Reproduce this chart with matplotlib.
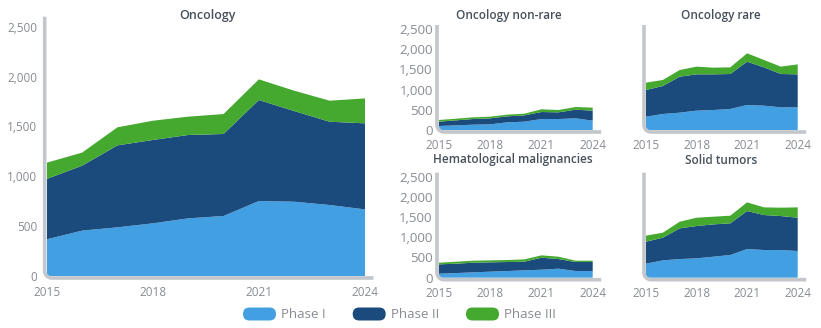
import numpy as np
import matplotlib
matplotlib.use('Agg')
import matplotlib.pyplot as plt
from matplotlib.path import Path
from matplotlib.patches import PathPatch, FancyBboxPatch
from matplotlib.transforms import IdentityTransform
from matplotlib.ticker import FuncFormatter

plt.rcParams['font.family'] = ['Open Sans', 'DejaVu Sans']

years = [2015, 2016, 2017, 2018, 2019, 2020, 2021, 2022, 2023, 2024]
phases = ['Phase I', 'Phase II', 'Phase III']

# values (trials per year, by phase)
oncology_p1 = [368, 455, 488, 528, 578, 602, 752, 745, 712, 668]
oncology_p2 = [605, 651, 822, 836, 836, 822, 1013, 909, 835, 863]
oncology_p3 = [163, 131, 181, 193, 184, 200, 207, 204, 211, 250]

nonrare_p1 = [99, 115, 132, 140, 190, 206, 272, 272, 289, 231]
nonrare_p2 = [107, 124, 140, 149, 148, 157, 173, 165, 214, 247]
nonrare_p3 = [42, 41, 42, 41, 42, 41, 67, 58, 66, 75]

rare_p1 = [330, 396, 429, 479, 495, 520, 619, 602, 561, 561]
rare_p2 = [660, 693, 891, 899, 883, 866, 1072, 949, 825, 817]
rare_p3 = [182, 149, 165, 190, 165, 165, 207, 182, 182, 247]

hema_p1 = [99, 115, 132, 149, 165, 182, 198, 223, 165, 165]
hema_p2 = [231, 232, 239, 231, 223, 214, 297, 239, 223, 223]
hema_p3 = [41, 49, 50, 49, 49, 58, 58, 58, 33, 33]

solid_p1 = [347, 429, 462, 479, 520, 561, 710, 685, 685, 660]
solid_p2 = [544, 561, 759, 800, 800, 784, 940, 866, 841, 825]
solid_p3 = [149, 124, 165, 206, 190, 190, 215, 190, 207, 256]

colors = ['#42a0e2', '#1b4a7d', '#45a82f']
spine_col = '#c3c6ca'
tick_col = '#878c93'
title_col = '#46505b'

W, H = 821, 328
fig = plt.figure(figsize=(W / 100, H / 100), dpi=100)


def add_panel(left, right, bottom, top, data, title, title_xy, ylabels=True,
              ylab_size=8.5, ypad=7, xpad=7):
    # left/right: pixel x of 2015 / 2024, bottom/top: pixel y of 0 / 2500
    px_per_year = (right - left) / 9
    ext = 8.5  # axis line runs a bit past the last year
    ax = fig.add_axes([left / W, 1 - bottom / H, (right + ext - left) / W,
                       (bottom - top) / H])
    ax.stackplot(years, *data, colors=colors, linewidth=0)
    ax.set_xlim(2015, 2024 + ext / px_per_year)
    ax.set_ylim(0, 2500)
    ax.set_xticks([2015, 2018, 2021, 2024])
    ax.set_yticks([0, 500, 1000, 1500, 2000, 2500])
    ax.yaxis.set_major_formatter(FuncFormatter(lambda v, p: f'{int(v):,}'))
    ax.tick_params(length=0, colors=tick_col, labelsize=8.5)
    ax.tick_params(axis='y', pad=ypad, labelsize=ylab_size)
    ax.tick_params(axis='x', pad=xpad)
    if not ylabels:
        ax.set_yticklabels([])
    for s in ax.spines.values():
        s.set_visible(False)
    ax.patch.set_visible(False)

    # L-shaped axis line with rounded corner
    wpx = right + ext - left
    hpx = bottom - top
    off = 2.0
    r = 7.0
    x0 = -off / wpx
    y0 = -off / hpx
    rx = r / wpx
    ry = r / hpx
    t = np.linspace(np.pi, 1.5 * np.pi, 12)
    arc_x = x0 + rx + rx * np.cos(t)
    arc_y = y0 + ry + ry * np.sin(t)
    verts = [(x0, 1.04)] + list(zip(arc_x, arc_y)) + [(1.0, y0)]
    ax.add_patch(PathPatch(Path(verts), transform=ax.transAxes, fill=False,
                           edgecolor=spine_col, linewidth=2.6,
                           clip_on=False, capstyle='butt', zorder=3))

    fig.text(title_xy[0] / W, 1 - title_xy[1] / H, title, ha='center',
             va='center', fontsize=title_xy[2], color=title_col,
             fontweight='semibold')
    return ax


add_panel(46.7, 365, 276, 26.7, [oncology_p1, oncology_p2, oncology_p3],
          'Oncology', (207, 15, 9))
add_panel(439, 592.7, 130, 29, [nonrare_p1, nonrare_p2, nonrare_p3],
          'Oncology non-rare', (509, 15, 8.5), ylab_size=9.5, ypad=4.5,
          xpad=6.5)
add_panel(646, 797.7, 130, 29, [rare_p1, rare_p2, rare_p3],
          'Oncology rare', (721, 15, 8.5), ylabels=False, xpad=6.5)
add_panel(439, 592.7, 277.7, 176.7, [hema_p1, hema_p2, hema_p3],
          'Hematological malignancies', (513, 160, 8.5), ylab_size=9.5,
          ypad=4.5, xpad=6.5)
add_panel(646, 797.7, 277.7, 176.7, [solid_p1, solid_p2, solid_p3],
          'Solid tumors', (721, 160, 8.5), ylabels=False, xpad=6.5)

# legend with pill-shaped markers (drawn in pixel coordinates)
leg_x = [243, 352.7, 466]
leg_y = 314
pw, ph = 33, 13
for lx, name, c in zip(leg_x, phases, colors):
    fig.patches.append(FancyBboxPatch(
        (lx, H - leg_y - ph / 2), pw, ph,
        boxstyle=f'round,pad=0,rounding_size={ph / 2}',
        transform=IdentityTransform(), facecolor=c, edgecolor='none'))
    fig.text((lx + pw + 5) / W, 1 - leg_y / H, name, ha='left', va='center',
             fontsize=9.5, color=tick_col)

fig.savefig('out.png', dpi=100)
